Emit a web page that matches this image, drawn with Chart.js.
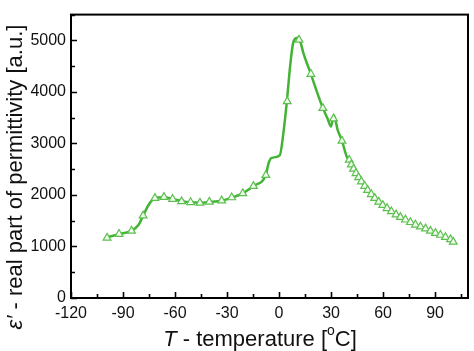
<!DOCTYPE html>
<html>
<head>
<meta charset="utf-8">
<script src="https://cdn.jsdelivr.net/npm/chart.js@4/dist/chart.umd.min.js"></script>
<style>
html,body{margin:0;padding:0;background:#fff;}
#wrap{width:474px;height:351px;position:relative;}
</style>
</head>
<body>
<div id="wrap"><canvas id="c" width="474" height="351"></canvas></div>
<script>
// Smooth curve (line) through the measured trace
const curveT = [-100,-92.3,-85.1,-81,-78.4,-75,-72,-66.4,-61.4,-56,-51,-45.6,-40.2,-33,-27.3,-20.9,-14.8,-7.6,-6,-4.2,0.5,2.5,4.5,6.4,8,9.5,11,12.5,14.1,18.4,21.8,25.3,28,30,31.6,33.8,36.3,39.2,40.5,43,45.9,49.4,53.2,57.5,62.3,67.5,72.9,78.7,84.5,90.2,96,100.5];
const curveV = [1170,1240,1305,1420,1598,1820,1930,1957,1920,1880,1857,1848,1862,1890,1948,2031,2172,2390,2620,2720,2775,3200,3810,4500,4930,5040,5050,4950,4746,4346,4006,3685,3481,3330,3545,3265,3050,2730,2679,2506,2340,2173,2013,1865,1741,1618,1519,1421,1347,1260,1180,1090];
// Triangle markers
const markT = [-99.2,-92.3,-85.1,-78.4,-71.6,-66.4,-61.4,-56.2,-51,-45.6,-40.2,-33.1,-27.3,-20.9,-14.8,-7.6,4.7,11.5,18.4,25.3,31.4,36.3,40.5,41.7,43.0,44.4,45.9,47.5,49.4,51.1,53.2,55.2,57.5,59.8,62.3,64.8,67.5,70.0,72.9,75.8,78.7,81.6,84.5,87.3,90.2,93.1,96.0,98.9,100.5];
const markV = [1167,1241,1302,1598,1939,1957,1920,1876,1857,1846,1865,1889,1950,2031,2172,2383,3815,5010,4346,3685,3481,3050,2679,2587,2506,2420,2340,2260,2173,2093,2013,1939,1865,1803,1741,1680,1618,1569,1519,1470,1421,1384,1347,1303,1260,1223,1180,1137,1090];
const xTicks = [-120,-90,-60,-30,0,30,60,90];
const yTicks = [0,1000,2000,3000,4000,5000];

const curve = curveT.map((t,i)=>({x:t,y:curveV[i]}));
const marks = markT.map((t,i)=>({x:t,y:markV[i]}));

const GREEN = '#43b336';
const FONT = '"Liberation Sans", Arial, sans-serif';

const framePlugin = {
  id:'frame',
  afterDatasetsDraw(chart){
    const ctx = chart.ctx, a = chart.chartArea;
    const xs = chart.scales.x, ys = chart.scales.y;
    ctx.save();
    ctx.strokeStyle = '#000';
    ctx.lineWidth = 2;
    ctx.strokeRect(a.left, a.top, a.right-a.left, a.bottom-a.top);
    ctx.lineWidth = 1.6;
    ctx.beginPath();
    for (let v=-120; v<=109; v+=15){
      const px = Math.round(xs.getPixelForValue(v))+0.5;
      const len = (v % 30 === 0) ? 6 : 4;
      ctx.moveTo(px, a.bottom); ctx.lineTo(px, a.bottom-len);
    }
    for (let v=0; v<=5500; v+=500){
      const py = Math.round(ys.getPixelForValue(v))+0.5;
      const len = (v % 1000 === 0) ? 6 : 4;
      ctx.moveTo(a.left, py); ctx.lineTo(a.left+len, py);
    }
    ctx.stroke();
    ctx.restore();
  },
  afterDraw(chart){
    const ctx = chart.ctx;
    ctx.save();
    ctx.fillStyle = '#111';
    ctx.textBaseline = 'alphabetic';
    // X title
    const fN = '22px ' + FONT, fI = 'italic 22px ' + FONT, fS = '14px ' + FONT;
    const parts = [
      {t:'T', f:fI, dy:0},
      {t:' - temperature [', f:fN, dy:0},
      {t:'o', f:fS, dy:-11},
      {t:'C]', f:fN, dy:0}
    ];
    let w = 0;
    parts.forEach(p=>{ctx.font=p.f; p.w=ctx.measureText(p.t).width; w+=p.w;});
    let x = 260 - w/2;
    const by = 346;
    parts.forEach(p=>{ctx.font=p.f; ctx.fillText(p.t, x, by+p.dy); x+=p.w;});
    // Y title
    ctx.translate(22, 177);
    ctx.rotate(-Math.PI/2);
    const yparts = [
      {t:'\u03B5\u2032', f:fI},
      {t:' - real part of permittivity [a.u.]', f:fN}
    ];
    w = 0;
    yparts.forEach(p=>{ctx.font=p.f; p.w=ctx.measureText(p.t).width; w+=p.w;});
    x = -w/2;
    yparts.forEach(p=>{ctx.font=p.f; ctx.fillText(p.t, x, 0); x+=p.w;});
    ctx.restore();
  }
};

new Chart(document.getElementById('c'), {
  type:'scatter',
  data:{
    datasets:[
      {
        type:'line',
        data:curve,
        borderColor:GREEN,
        borderWidth:2.5,
        pointRadius:0,
        fill:false,
        cubicInterpolationMode:'monotone',
        order:2
      },
      {
        data:marks,
        showLine:false,
        pointStyle:'triangle',
        pointRadius:4.5,
        borderColor:'#5cc04f',
        backgroundColor:'#f2fbef',
        borderWidth:1.2,
        order:1
      }
    ]
  },
  plugins:[framePlugin],
  options:{
    responsive:false,
    animation:false,
    layout:{padding:{left:0,right:6,top:1,bottom:0}},
    plugins:{legend:{display:false},tooltip:{enabled:false}},
    scales:{
      x:{
        type:'linear', min:-120, max:109,
        afterFit(s){ s.height = 53; },
        afterBuildTicks(s){ s.ticks = xTicks.map(v=>({value:v})); },
        grid:{display:false, drawTicks:false},
        border:{display:false},
        ticks:{font:{family:FONT,size:16},color:'#111',padding:6,maxRotation:0,callback:v=>String(v)}
      },
      y:{
        type:'linear', min:0, max:5500,
        afterFit(s){ s.width = 71; },
        afterBuildTicks(s){ s.ticks = yTicks.map(v=>({value:v})); },
        grid:{display:false, drawTicks:false},
        border:{display:false},
        ticks:{font:{family:FONT,size:16},color:'#111',padding:5,callback:v=>String(v)}
      }
    }
  }
});
</script>
</body>
</html>
